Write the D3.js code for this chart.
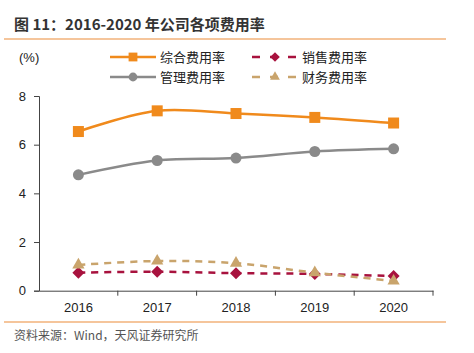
<!DOCTYPE html>
<html>
<head>
<meta charset="utf-8">
<script src="https://cdn.jsdelivr.net/npm/d3@7"></script>
<style>
  body { margin: 0; background: #fff; }
  text { font-family: "Liberation Sans", Arial, "Noto Sans CJK SC", sans-serif; }
  .cjk { font-family: "Noto Sans CJK SC", sans-serif; }
</style>
</head>
<body>
<div id="chart"></div>
<script>
// chart data
const years = ["2016", "2017", "2018", "2019", "2020"];
const zongheRate = [6.54, 7.39, 7.28, 7.12, 6.89];   // 综合费用率
const guanliRate = [4.76, 5.35, 5.45, 5.72, 5.83];   // 管理费用率
const xiaoshouRate = [0.74, 0.78, 0.72, 0.69, 0.60]; // 销售费用率
const caiwuRate = [1.06, 1.22, 1.13, 0.74, 0.40];    // 财务费用率
const yTicks = [0, 2, 4, 6, 8];

const series = [
  { name: "综合费用率", values: zongheRate, color: "#F08A1C", dash: null, marker: "square" },
  { name: "销售费用率", values: xiaoshouRate, color: "#A8123E", dash: "7,6", marker: "diamond" },
  { name: "管理费用率", values: guanliRate, color: "#8A8A8A", dash: null, marker: "circle" },
  { name: "财务费用率", values: caiwuRate, color: "#C9A46C", dash: "7,6", marker: "triangle" }
];

const W = 474, H = 353;
const svg = d3.select("#chart").append("svg")
  .attr("width", W)
  .attr("height", H);

// title + rules
svg.append("text")
  .attr("class", "cjk")
  .attr("x", 14).attr("y", 30)
  .attr("font-size", 15).attr("font-weight", "bold")
  .attr("fill", "#333")
  .text("图 11：2016-2020 年公司各项费用率");

svg.append("line").attr("x1", 4).attr("x2", 446).attr("y1", 39).attr("y2", 39)
  .attr("stroke", "#F2B27A").attr("stroke-width", 1.5);
svg.append("line").attr("x1", 4).attr("x2", 446).attr("y1", 322).attr("y2", 322)
  .attr("stroke", "#F2B27A").attr("stroke-width", 1.5);

svg.append("text")
  .attr("class", "cjk")
  .attr("x", 14).attr("y", 340)
  .attr("font-size", 12).attr("fill", "#555")
  .text("资料来源：Wind，天风证券研究所");

// scales
const margin = { left: 39, right: 41, top: 96, bottom: 62 };
const x = d3.scaleBand().domain(years).range([margin.left, W - margin.right]);
const y = d3.scaleLinear().domain([0, 8]).range([H - margin.bottom - 0.3, margin.top]);

const xAxis = d3.axisBottom(x).tickSize(0).tickPadding(12);
const gx = svg.append("g")
  .attr("transform", "translate(0," + y(0) + ")")
  .call(xAxis);
gx.select(".domain").attr("stroke", "#444");
gx.selectAll("text").attr("font-size", 13).attr("fill", "#222");
// tick marks at band boundaries
gx.selectAll(".bnd")
  .data(years.slice(1).concat(["end"]))
  .enter().append("line")
  .attr("x1", (d, i) => margin.left + x.step() * (i + 1))
  .attr("x2", (d, i) => margin.left + x.step() * (i + 1))
  .attr("y1", 0).attr("y2", 5)
  .attr("stroke", "#444");

const yAxis = d3.axisLeft(y).tickValues(yTicks).tickSize(5).tickPadding(8);
const gy = svg.append("g")
  .attr("transform", "translate(" + margin.left + ",0)")
  .call(yAxis);
gy.select(".domain").attr("stroke", "#444");
gy.selectAll(".tick line").attr("stroke", "#444");
gy.selectAll("text").attr("font-size", 13).attr("fill", "#222");

svg.append("text")
  .attr("x", 19).attr("y", 62)
  .attr("font-size", 13).attr("fill", "#222")
  .text("(%)");

// lines
const cx = i => x(years[i]) + x.bandwidth() / 2;
const line = d3.line()
  .x((d, i) => cx(i))
  .y(d => y(d))
  .curve(d3.curveCatmullRom.alpha(0.5));

function drawMarker(g, type, color, k) {
  k = k || 1;
  if (type === "square") {
    g.append("rect").attr("x", -5.5 * k).attr("y", -5.5 * k)
      .attr("width", 11 * k).attr("height", 11 * k).attr("fill", color);
  } else if (type === "circle") {
    g.append("circle").attr("r", 5.5 * k).attr("fill", color);
  } else if (type === "diamond") {
    const r = 6 * k;
    g.append("path").attr("d", "M0," + (-r) + "L" + r + ",0L0," + r + "L" + (-r) + ",0Z").attr("fill", color);
  } else {
    g.append("path").attr("d", d3.symbol(d3.symbolTriangle, 65 * k * k)()).attr("fill", color);
  }
}

series.forEach(s => {
  svg.append("path")
    .datum(s.values)
    .attr("d", line)
    .attr("fill", "none")
    .attr("stroke", s.color)
    .attr("stroke-width", 2.5)
    .attr("stroke-dasharray", s.dash);
  s.values.forEach((v, i) => {
    const g = svg.append("g").attr("transform", "translate(" + cx(i) + "," + y(v) + ")");
    drawMarker(g, s.marker, s.color);
  });
});

// legend
const legendPos = [[110, 57], [252, 57], [110, 77], [252, 77]];
series.forEach((s, i) => {
  const [lx, ly] = legendPos[i];
  const g = svg.append("g").attr("transform", "translate(" + lx + "," + ly + ")");
  g.append("line").attr("x1", 0).attr("x2", 46).attr("y1", 0).attr("y2", 0)
    .attr("stroke", s.color).attr("stroke-width", 2.5)
    .attr("stroke-dasharray", s.dash ? "8,10" : null);
  const m = g.append("g").attr("transform", "translate(23,0)");
  drawMarker(m, s.marker, s.color, 0.8);
  g.append("text")
    .attr("class", "cjk")
    .attr("x", 50).attr("y", 5)
    .attr("font-size", 13).attr("fill", "#222")
    .text(s.name);
});
</script>
</body>
</html>
